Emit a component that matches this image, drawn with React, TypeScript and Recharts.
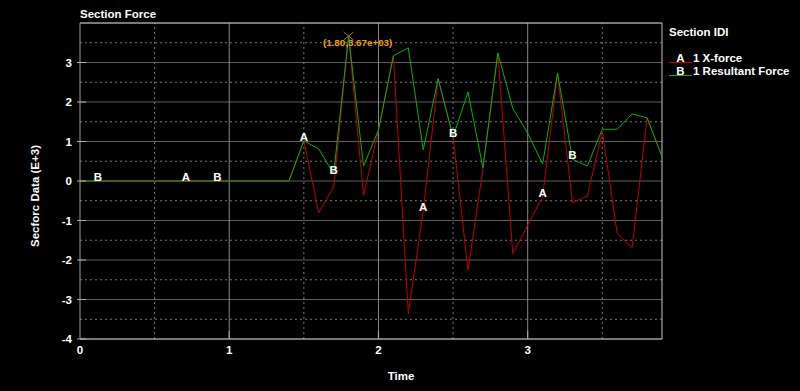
import {
  CartesianGrid,
  Line,
  LineChart,
  ReferenceDot,
  ReferenceLine,
  XAxis,
  YAxis
} from "recharts";

// time steps (s)
const times = [
  0, 0.1, 0.2, 0.3, 0.4, 0.5, 0.6, 0.7, 0.8, 0.9,
  1.0, 1.1, 1.2, 1.3, 1.4, 1.5, 1.6, 1.7, 1.8, 1.9,
  2.0, 2.1, 2.2, 2.3, 2.4, 2.5, 2.6, 2.7, 2.8, 2.9,
  3.0, 3.1, 3.2, 3.3, 3.4, 3.5, 3.6, 3.7, 3.8, 3.9
];

// A: 1 X-force (E+3)
const xForce = [
  0, 0, 0, 0, 0, 0, 0, 0, 0, 0,
  0, 0, 0, 0, 0, 1.02, -0.8, -0.15, 3.67, -0.36,
  1.28, 3.17, -3.36, -0.75, 2.59, 1.12, -2.26, 0.3, 3.24, -1.84,
  -1.12, -0.4, 2.73, -0.55, -0.38, 1.26, -1.33, -1.69, 1.6, 0.62
];

// B: 1 Resultant Force (E+3)
const resultant = [
  0, 0, 0, 0, 0, 0, 0, 0, 0, 0,
  0, 0, 0, 0, 0, 1.02, 0.81, 0.18, 3.67, 0.38,
  1.29, 3.17, 3.37, 0.79, 2.59, 1.12, 2.25, 0.34, 3.24, 1.84,
  1.21, 0.43, 2.73, 0.55, 0.38, 1.31, 1.31, 1.7, 1.6, 0.62
];

const xTicks = [0, 1, 2, 3];
const xMinorTicks = [0.5, 1.5, 2.5, 3.5];
const yTicks = [-4, -3, -2, -1, 0, 1, 2, 3];
const yMinorTicks = [-3.5, -2.5, -1.5, -0.5, 0.5, 1.5, 2.5, 3.5];
const xDomain = [0, 3.9];
const yDomain = [-4, 4];

// curve letter markers
const markersA = [
  { t: 0.71, v: 0 },
  { t: 1.5, v: 1.02 },
  { t: 2.3, v: -0.75 },
  { t: 3.1, v: -0.4 }
];
const markersB = [
  { t: 0.12, v: 0 },
  { t: 0.92, v: 0 },
  { t: 1.7, v: 0.18 },
  { t: 2.5, v: 1.12 },
  { t: 3.3, v: 0.55 }
];

const peak = { t: 1.8, v: 3.67, label: "(1.80,3.67e+03)" };

const series = [
  { key: "xForce", letter: "A", name: "1 X-force", color: "#c00000" },
  { key: "resultant", letter: "B", name: "1 Resultant Force", color: "#0cb00c" }
];

const data = times.map((t, i) => ({ t, xForce: xForce[i], resultant: resultant[i] }));

const font = "'Liberation Sans', Arial, sans-serif";
const fontSize = 11.5;

const YTick = ({ x, y, payload }: any) => (
  <g>
    <line x1={x + 5} x2={x + 14} y1={y} y2={y} stroke="#b0b0b0" />
    <text x={x} y={y + 4} textAnchor="end" fill="#fff" fontFamily={font} fontSize={fontSize} fontWeight="bold">
      {payload.value}
    </text>
  </g>
);

const XTick = ({ x, y, payload }: any) => (
  <g>
    {payload.value > 0 && <line x1={x} x2={x} y1={y - 4} y2={y - 12} stroke="#b0b0b0" />}
    <text x={x} y={y + 11} textAnchor="middle" fill="#fff" fontFamily={font} fontSize={fontSize} fontWeight="bold">
      {payload.value}
    </text>
  </g>
);

const letterShape = (letter: string) => (props: any) => (
  <text x={props.cx} y={props.cy} textAnchor="middle" fill="#fff" fontFamily={font} fontSize={fontSize} fontWeight="bold">
    {letter}
  </text>
);

const peakShape = (props: any) => (
  <g>
    <line x1={props.cx - 5} x2={props.cx + 5} y1={props.cy - 4} y2={props.cy + 4} stroke="#a87a20" />
    <line x1={props.cx - 5} x2={props.cx + 5} y1={props.cy + 4} y2={props.cy - 4} stroke="#a87a20" />
    <text x={props.cx + 9} y={props.cy + 10} textAnchor="middle" fill="#eea000" fontFamily={font} fontSize={9.8} fontWeight="bold">
      {peak.label}
    </text>
  </g>
);

export default function App() {
  return (
    <div style={{ position: "fixed", left: 0, top: 0, width: 800, height: 391, background: "#000" }}>
      <LineChart width={800} height={391} data={data} margin={{ top: 23, right: 138, bottom: 0, left: 0 }}>
        <CartesianGrid horizontal vertical={false} stroke="#5e5e5e" />
        {xTicks.filter((v) => v > 0).map((v) => (
          <ReferenceLine key={`vx${v}`} x={v} stroke="#8a8a8a" />
        ))}
        {xMinorTicks.map((v) => (
          <ReferenceLine key={`mx${v}`} x={v} stroke="#7a7a7a" strokeDasharray="2 3" />
        ))}
        {yMinorTicks.map((v) => (
          <ReferenceLine key={`my${v}`} y={v} stroke="#7a7a7a" strokeDasharray="2 3" />
        ))}
        <ReferenceLine y={yDomain[1]} stroke="#c4c4c4" />
        <ReferenceLine x={xDomain[1]} stroke="#c4c4c4" />
        <XAxis
          dataKey="t"
          type="number"
          domain={xDomain}
          ticks={xTicks}
          allowDataOverflow
          height={52}
          tickSize={0}
          tickMargin={4}
          tick={<XTick />}
          axisLine={{ stroke: "#c4c4c4" }}
          tickLine={false}
        />
        <YAxis
          type="number"
          domain={yDomain}
          ticks={yTicks}
          allowDataOverflow
          width={80}
          tickSize={0}
          tickMargin={8}
          tick={<YTick />}
          axisLine={{ stroke: "#a0a0a0" }}
          tickLine={false}
        />
        {series.map((s) => (
          <Line
            key={s.key}
            type="linear"
            dataKey={s.key}
            stroke={s.color}
            strokeWidth={1}
            dot={false}
            isAnimationActive={false}
          />
        ))}
        {markersA.map((m, i) => (
          <ReferenceDot key={`a${i}`} x={m.t} y={m.v} r={0} shape={letterShape("A")} />
        ))}
        {markersB.map((m, i) => (
          <ReferenceDot key={`b${i}`} x={m.t} y={m.v} r={0} shape={letterShape("B")} />
        ))}
        <ReferenceDot x={peak.t} y={peak.v} r={0} shape={peakShape} />
      </LineChart>
      <svg width={800} height={391} style={{ position: "absolute", left: 0, top: 0, pointerEvents: "none" }}>
        <g fontFamily={font} fontSize={fontSize} fontWeight="bold" fill="#fff">
          <text x={80} y={17.5}>Section Force</text>
          <text x={38.5} y={196} textAnchor="middle" transform="rotate(-90 38.5 196)">Secforc Data (E+3)</text>
          <text x={401} y={380} textAnchor="middle">Time</text>
          {/* legend */}
          <text x={669} y={36}>Section IDI</text>
          {series.map((s, i) => (
            <g key={s.key}>
              <line x1={669} x2={692} y1={62.5 + i * 13} y2={62.5 + i * 13} stroke={s.color} />
              <text x={680.5} y={61.5 + i * 13} textAnchor="middle">{s.letter}</text>
              <text x={693} y={61.5 + i * 13}>{s.name}</text>
            </g>
          ))}
        </g>
      </svg>
    </div>
  );
}
